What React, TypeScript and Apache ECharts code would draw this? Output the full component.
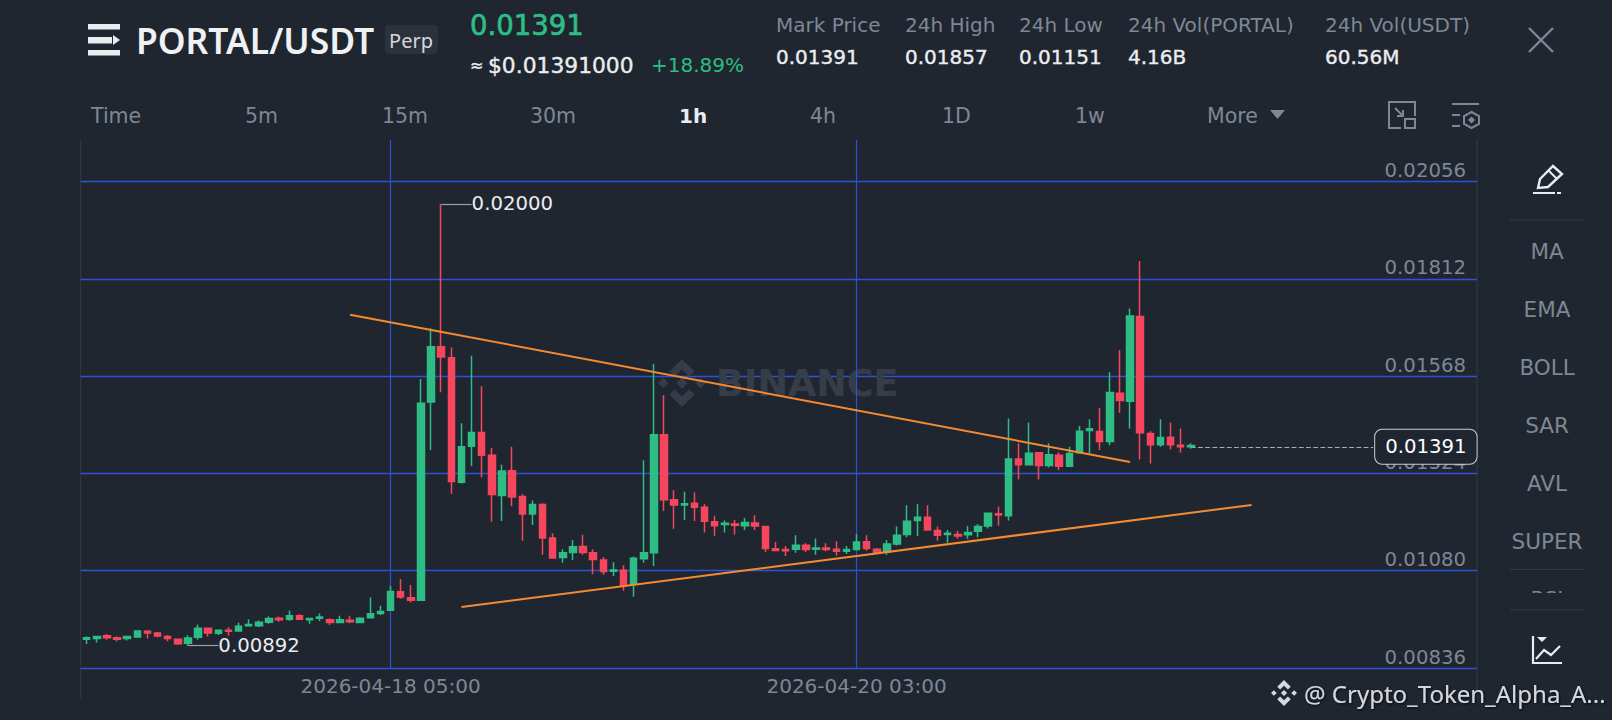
import React, { useEffect, useRef } from "react";
import * as echarts from "echarts";

const BG = "#1f2630";
const UP = "#2ebd85";
const DOWN = "#f6465d";
const GRID = "#2d52d6";
const FONT = '"DejaVu Sans"';
const NOTO = '"Noto Sans"';

const opens = [908,910,917,912,910,914,928,924,915,908,898,913,936,923,931,929,942,942,951,961,958,967,957,961,957,950,956,950,962,973,981,1027,1012,1006,1503,1642,1614,1302,1392,1427,1370,1269,1331,1266,1222,1246,1162,1113,1126,1141,1125,1107,1079,1081,1046,1110,1125,1421,1258,1245,1249,1239,1203,1196,1197,1193,1200,1191,1135,1133,1134,1144,1134,1137,1134,1129,1133,1153,1134,1127,1147,1171,1206,1214,1181,1171,1171,1170,1179,1192,1223,1218,1360,1346,1376,1344,1370,1342,1376,1432,1429,1404,1525,1505,1718,1424,1396,1415,1395,1391];
const closes = [912,915,912,908,915,929,924,916,910,897,911,936,924,931,928,941,945,951,960,957,967,958,960,964,950,957,952,961,972,978,1028,1014,1006,1500,1642,1616,1304,1391,1427,1370,1271,1330,1265,1222,1246,1162,1112,1125,1140,1126,1108,1078,1082,1043,1111,1125,1421,1258,1245,1248,1239,1204,1193,1199,1194,1201,1192,1136,1131,1130,1144,1133,1137,1133,1129,1133,1152,1136,1125,1147,1169,1204,1214,1182,1169,1174,1167,1176,1191,1224,1220,1360,1346,1375,1344,1371,1342,1374,1430,1436,1404,1527,1507,1719,1426,1396,1414,1396,1391,1394];
const lows = [896,900,907,903,905,913,910,913,903,894,892,907,915,919,917,928,941,939,947,952,954,957,947,954,944,948,948,949,960,969,980,1010,1000,1004,1383,1528,1273,1299,1343,1314,1203,1205,1242,1155,1195,1120,1110,1100,1107,1120,1071,1070,1067,1030,1015,1100,1092,1230,1185,1207,1205,1176,1168,1176,1171,1182,1182,1127,1129,1117,1125,1127,1120,1129,1118,1122,1131,1130,1123,1120,1143,1164,1167,1181,1155,1150,1160,1160,1164,1186,1193,1206,1309,1344,1309,1339,1333,1341,1375,1375,1383,1395,1476,1437,1359,1349,1391,1385,1376,1386];
const highs = [915,917,921,915,917,931,931,926,919,910,918,945,937,932,938,950,958,955,965,965,980,971,961,973,960,967,967,963,1013,992,1042,1059,1044,1561,1688,2000,1640,1450,1619,1543,1388,1346,1391,1272,1256,1249,1174,1134,1157,1170,1134,1114,1101,1094,1116,1357,1599,1520,1282,1278,1277,1247,1218,1206,1207,1212,1219,1193,1152,1142,1169,1149,1161,1149,1154,1142,1172,1169,1137,1157,1191,1244,1247,1244,1191,1182,1180,1192,1197,1226,1241,1462,1400,1452,1378,1400,1377,1391,1443,1460,1488,1578,1633,1738,1857,1430,1460,1451,1437,1400];

const SCALE = 100000;
const FUTURE_SLOTS = 28;
const START_UTC = Date.UTC(2026, 3, 16, 23);
const pad = (n: number) => String(n).padStart(2, "0");
const categories = Array.from({ length: opens.length + FUTURE_SLOTS }, (_, i) => {
  const d = new Date(START_UTC + i * 3600000);
  return `${d.getUTCFullYear()}-${pad(d.getUTCMonth() + 1)}-${pad(d.getUTCDate())} ${pad(d.getUTCHours())}:00`;
});
const candleData = opens.map((o, i) => [o / SCALE, closes[i] / SCALE, lows[i] / SCALE, highs[i] / SCALE]);

const priceTicks = [0.00836, 0.0108, 0.01324, 0.01568, 0.01812, 0.02056];
const timeTickIndexes = [30, 76];
const lastPrice = 0.01391;
const highMark = { index: 35, end: 38, value: 0.02 };
const lowMark = { index: 10, end: 13, value: 0.00892 };
const resistance = [[26, 0.017224], [103, 0.013529]];
const support = [[37, 0.009891], [115, 0.01245]];

const tabs = [["Time", 91], ["5m", 245], ["15m", 382], ["30m", 530], ["4h", 810], ["1D", 942], ["1w", 1075], ["More", 1207]] as [string, number][];
const stats = [["Mark Price", "0.01391", 776], ["24h High", "0.01857", 905], ["24h Low", "0.01151", 1019], ["24h Vol(PORTAL)", "4.16B", 1128], ["24h Vol(USDT)", "60.56M", 1325]] as [string, string, number][];
const tools = [["MA", 251], ["EMA", 309], ["BOLL", 367], ["SAR", 425], ["AVL", 483], ["SUPER", 541]] as [string, number][];

const txt = (text: string, x: number, y: number, size: number, fill: string, weight = 400, align = "left", z = 20, font = FONT, emb = 0) => ({
  type: "text", x, y, z,
  style: { text, fill, font: `${weight} ${size}px ${font}`, align, verticalAlign: "middle", ...(emb ? { stroke: fill, lineWidth: emb } : {}) },
});
const box = (x: number, y: number, w: number, h: number, fill: string, r = 0, z = 20) => ({
  type: "rect", z, shape: { x, y, width: w, height: h, r }, style: { fill },
});
const seg = (x1: number, y1: number, x2: number, y2: number, stroke: string, lineWidth = 1, z = 20) => ({
  type: "line", z, shape: { x1, y1, x2, y2 }, style: { stroke, lineWidth },
});
const poly = (points: number[][], stroke: string, lineWidth = 2, z = 20) => ({
  type: "polyline", z, shape: { points }, style: { stroke, lineWidth, fill: "none" },
});
const gon = (points: number[][], fill: string, z = 20) => ({
  type: "polygon", z, shape: { points }, style: { fill },
});
const logo = (cx: number, cy: number, r: number, fill: string, z: number) => {
  const d = (x: number, y: number, s: number) =>
    gon([[cx + x * r, cy + (y - s) * r], [cx + (x + s) * r, cy + y * r], [cx + x * r, cy + (y + s) * r], [cx + (x - s) * r, cy + y * r]], fill, z);
  const chev = (sgn: number) =>
    gon([[0, -1], [0.52, -0.48], [0.3, -0.26], [0, -0.56], [-0.3, -0.26], [-0.52, -0.48]].map(([x, y]) => [cx + x * r, cy + sgn * y * r]), fill, z);
  return [chev(1), chev(-1), d(0, 0, 0.24), d(-0.78, 0, 0.22), d(0.78, 0, 0.22)];
};

const MUTED = "#7f8794";
const WHITE = "#eaecef";

function buildGraphics() {
  const els: any[] = [];
  // chart frame
  els.push(seg(80.7, 140, 80.7, 699, "#333b47", 1, 0));
  els.push(seg(1477, 140, 1477, 700, "#333b47", 1, 0));
  // watermark
  const wm = "#363d49";
  els.push(...logo(682, 383, 24, wm, 1));
  els.push(txt("BINANCE", 716, 383.5, 36.5, wm, 700, "left", 1));
  // header
  els.push(box(88, 24, 32, 5.5, WHITE));
  els.push(box(88, 37, 24, 6.5, WHITE));
  els.push(gon([[113, 35], [120, 40], [113, 45]], WHITE));
  els.push(box(88, 50, 32, 5.5, WHITE));
  els.push(txt("PORTAL/USDT", 136, 40, 35.4, "#f0f1f3", 600, "left", 20, NOTO));
  els.push(box(385, 25, 53, 29, "#2b323d", 4));
  els.push(txt("Perp", 411, 40, 20, "#d5d8dd", 400, "center", 20, NOTO));
  els.push(txt("0.01391", 470, 25, 27.5, UP, 400, "left", 20, FONT, 0.7));
  els.push(txt("≈", 470, 65, 16, WHITE, 400, "left", 20, FONT, 0.4));
  els.push(txt("$0.01391000", 488, 65, 21.8, WHITE, 400, "left", 20, FONT, 0.4));
  els.push(txt("+18.89%", 651, 65, 20, UP, 400));
  stats.forEach(([label, value, x]) => {
    els.push(txt(label, x, 25, 20, MUTED));
    els.push(txt(value, x, 57, 20, WHITE, 400, "left", 20, FONT, 0.4));
  });
  els.push(seg(1529, 28, 1553, 52, MUTED, 2.4));
  els.push(seg(1553, 28, 1529, 52, MUTED, 2.4));
  // tabs
  tabs.forEach(([t, x]) => els.push(txt(t, x, 116, 20.5, MUTED)));
  els.push(txt("1h", 679, 116, 20, WHITE, 700));
  els.push(gon([[1270, 110], [1285, 110], [1277.5, 119]], MUTED));
  // tab icons
  els.push(poly([[1415, 116], [1415, 102], [1389, 102], [1389, 128], [1401, 128]], MUTED, 2));
  els.push(poly([[1395, 108], [1403, 116]], MUTED, 2));
  els.push(poly([[1403, 110], [1403, 116], [1397, 116]], MUTED, 2));
  els.push({ type: "rect", z: 20, shape: { x: 1405, y: 119, width: 10, height: 9 }, style: { stroke: MUTED, lineWidth: 2, fill: "none" } });
  els.push(seg(1452, 104, 1479, 104, MUTED, 2));
  els.push(seg(1452, 115, 1460, 115, MUTED, 2));
  els.push(seg(1452, 126, 1460, 126, MUTED, 2));
  els.push({ type: "polygon", z: 20, shape: { points: [[1471.5, 112], [1479, 116], [1479, 124], [1471.5, 128], [1464, 124], [1464, 116]] }, style: { stroke: MUTED, lineWidth: 2, fill: "none" } });
  els.push(gon([[1471.5, 116.5], [1475, 120], [1471.5, 123.5], [1468, 120]], MUTED));
  // right tool panel
  els.push({ type: "polygon", z: 20, shape: { points: [[1538, 188], [1540, 179], [1553, 166], [1562, 174], [1548, 187]] }, style: { stroke: WHITE, lineWidth: 2.4, fill: "none" } });
  els.push(seg(1549, 171, 1557, 179, WHITE, 2));
  els.push(seg(1533, 193, 1555, 193, WHITE, 2));
  els.push(seg(1557, 193, 1561, 193, WHITE, 2));
  els.push(seg(1510, 220, 1584, 220, "#333b47", 1));
  tools.forEach(([t, y]) => els.push(txt(t, 1547, y, 21.5, MUTED, 400, "center")));
  els.push(seg(1510, 569.5, 1584, 569.5, "#333b47", 1));
  els.push(txt("RSI", 1547, 598, 20, MUTED, 400, "center", 20));
  els.push(box(1500, 593, 100, 17, BG, 0, 21));
  els.push(seg(1510, 610, 1584, 610, "#333b47", 1, 22));
  // chart icon
  els.push(poly([[1533, 636], [1533, 663], [1562, 663]], WHITE, 2.2));
  els.push(poly([[1536, 659], [1544, 650], [1551, 655], [1560, 646]], WHITE, 2.2));
  els.push(gon([[1537, 637], [1547, 637], [1542, 642]], WHITE));
  // bottom signature
  const sig = "#d5d7da";
  els.push(...logo(1284, 693, 13, sig, 30));
  const s = txt("@ Crypto_Token_Alpha_A...", 1304, 693, 24, sig, 400, "left", 30, NOTO);
  (s.style as any).textShadowColor = "#0c0f14";
  (s.style as any).textShadowBlur = 2;
  (s.style as any).textShadowOffsetX = 1;
  (s.style as any).textShadowOffsetY = 1;
  els.push(s);
  return els;
}

export default function App() {
  const ref = useRef<HTMLDivElement>(null);
  useEffect(() => {
    document.body.style.margin = "0";
    document.body.style.background = BG;
    const chart = echarts.init(ref.current!, undefined, { renderer: "svg" });
    const priceMin = 0.00836;
    const priceMax = 0.021605;
    chart.setOption({
      animation: false,
      backgroundColor: BG,
      textStyle: { fontFamily: FONT },
      grid: [
        { left: 81.6, width: 1397.94, top: 140, height: 528, containLabel: false },
        { left: 80.7, width: 1396.3, top: 140, height: 528, containLabel: false },
      ],
      xAxis: [
        {
          type: "category",
          gridIndex: 0,
          data: categories,
          boundaryGap: true,
          axisLine: { show: false },
          axisTick: { show: false },
          splitLine: { show: false },
          axisLabel: { customValues: timeTickIndexes, color: MUTED, fontSize: 20, margin: 8, fontFamily: FONT },
        },
        { type: "value", gridIndex: 1, min: 0, max: 1, show: false, splitLine: { show: false } },
      ],
      yAxis: [
        { type: "value", gridIndex: 0, min: priceMin, max: priceMax, show: false, scale: true, splitLine: { show: false } },
        {
          type: "value",
          gridIndex: 1,
          min: priceMin,
          max: priceMax,
          position: "right",
          scale: true,
          axisLine: { show: false },
          axisTick: { show: false, customValues: priceTicks },
          splitLine: { show: true, lineStyle: { color: GRID, width: 1.4 } },
          axisLabel: {
            customValues: priceTicks,
            inside: true,
            margin: 11,
            color: MUTED,
            fontSize: 19.7,
            fontFamily: FONT,
            verticalAlign: "bottom",
            padding: [0, 0, 1, 0],
            formatter: (v: number) => v.toFixed(5),
          },
        },
      ],
      series: [
        {
          type: "candlestick",
          xAxisIndex: 0,
          yAxisIndex: 0,
          z: 3,
          data: candleData,
          barWidth: 7,
          itemStyle: { color: UP, color0: DOWN, borderColor: UP, borderColor0: DOWN, borderWidth: 1.5 },
          markLine: {
            silent: true,
            symbol: "none",
            animation: false,
            z: 1,
            precision: 5,
            data: [
              ...timeTickIndexes.map((i) => ({
                xAxis: i,
                lineStyle: { color: GRID, width: 1.2, type: "solid" },
                label: { show: false },
              })),
              [
                { coord: [highMark.index, highMark.value], lineStyle: { color: "#9aa0a8", width: 1.2, type: "solid" },
                  label: { show: true, position: "end", distance: 0, formatter: highMark.value.toFixed(5), color: WHITE, fontSize: 19.7, fontFamily: FONT } },
                { coord: [highMark.end, highMark.value] },
              ],
              [
                { coord: [lowMark.index, lowMark.value], lineStyle: { color: "#9aa0a8", width: 1.2, type: "solid" },
                  label: { show: true, position: "end", distance: 0, formatter: lowMark.value.toFixed(5), color: WHITE, fontSize: 19.7, fontFamily: FONT } },
                { coord: [lowMark.end, lowMark.value] },
              ],
              [
                { coord: [opens.length - 1, lastPrice], lineStyle: { color: "#a8adb5", width: 1.2, type: "dashed" },
                  label: { show: true, position: "end", distance: 2, formatter: lastPrice.toFixed(5), color: "#ffffff", fontSize: 19.7, fontFamily: FONT,
                    backgroundColor: BG, borderColor: "#c9cdd3", borderWidth: 1, borderRadius: 7, padding: [7, 10, 7, 10] } },
                { coord: [127, lastPrice] },
              ],
            ],
          },
        },
        { type: "line", xAxisIndex: 0, yAxisIndex: 0, z: 5, data: resistance, showSymbol: false, symbol: "none", lineStyle: { color: "#f58a30", width: 2 } },
        { type: "line", xAxisIndex: 0, yAxisIndex: 0, z: 5, data: support, showSymbol: false, symbol: "none", lineStyle: { color: "#f58a30", width: 2 } },
      ],
      graphic: { elements: buildGraphics() },
    });
    return () => chart.dispose();
  }, []);
  return <div ref={ref} style={{ width: 1612, height: 720, overflow: "hidden" }} />;
}
